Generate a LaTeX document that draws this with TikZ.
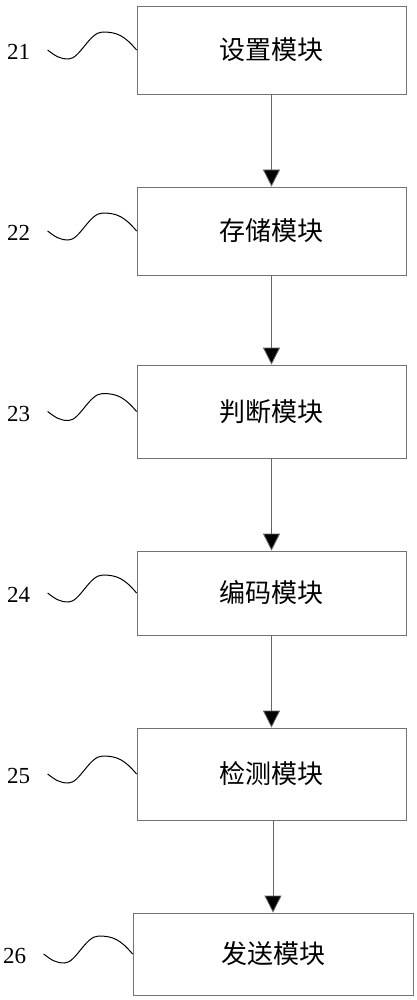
\documentclass[tikz,border=0pt]{standalone}
\usepackage{fontspec}
\setmainfont{Liberation Serif}
\newfontfamily\cjk{Noto Sans CJK SC}
\usetikzlibrary{arrows.meta,calc}
\begin{document}
\begin{tikzpicture}[x=1pt,y=-1pt,
  modbox/.style={draw=black!55,line width=0.8pt,rectangle,minimum width=269pt,minimum height=88pt,inner sep=0pt,font=\cjk\fontsize{26}{26}\selectfont},
  flow/.style={draw=black!60,line width=0.8pt,-{Triangle[length=17pt,width=17pt,fill=black]}},
  wave/.style={draw=black,line width=1pt},
  numlbl/.style={font=\fontsize{23}{23}\selectfont,inner sep=0pt}]
\useasboundingbox (0,0) rectangle (417,1000);
\node[modbox] (b1) at (271.5,50) {设置模块};
\node[modbox] (b2) at (271.5,231) {存储模块};
\node[modbox,minimum height=93pt] (b3) at (271.5,411.5) {判断模块};
\node[modbox,minimum height=84pt] (b4) at (271.5,593) {编码模块};
\node[modbox,minimum height=92pt] (b5) at (271.5,774) {检测模块};
\node[modbox,minimum width=280pt,minimum height=82pt] (b6) at (273,954) {发送模块};
\foreach \a/\b in {b1/b2,b2/b3,b3/b4,b4/b5} {\draw[flow] (\a.south) -- (\b.north);}
\draw[flow] ($(b5.south)+(1.5,0)$) -- (b6.north);
\foreach \i in {1,...,6} {
  \path (b\i.west) ++(-89,0) coordinate (w\i);
  \node[numlbl] (l\i) at ($(b\i.west)+(-118,2)$) {2\i};
  \draw[wave] (w\i) .. controls +(8,6) and +(-9,0) .. ++(21,9)
    .. controls +(11,0) and +(-13,0) .. ++(34,-27)
    .. controls +(15,0) and +(-12,-14) .. (b\i.west);
}
\end{tikzpicture}
\end{document}
